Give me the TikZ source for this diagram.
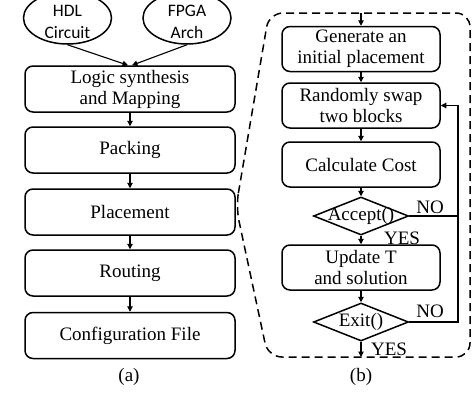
\documentclass[tikz,border=0pt]{standalone}
\usepackage{fontspec}
\setmainfont{Liberation Serif}
\newfontfamily\carl{Carlito}
\usetikzlibrary{shapes.geometric,arrows.meta}
\begin{document}
\begin{tikzpicture}[x=1pt,y=-1pt,
  txt/.style={font=\fontsize{19}{21}\selectfont,inner sep=0pt,align=center},
  box/.style={txt,draw,line width=1.5pt,rounded corners=8pt,minimum width=210pt,minimum height=46pt},
  rbox/.style={txt,draw,line width=1.5pt,rounded corners=8pt,minimum width=158pt,minimum height=45pt},
  ell/.style={draw,ellipse,line width=1.5pt,minimum width=88pt,minimum height=52pt,inner sep=0pt},
  etxt/.style={inner sep=0pt,align=center,font=\carl\fontsize{17.5}{22}\selectfont},
  dia/.style={draw,diamond,line width=1.5pt,minimum width=95pt,minimum height=38pt,inner sep=0pt},
  arr/.style={line width=1.1pt,-{Triangle[length=5.5pt,width=5.5pt]}},
  ln/.style={line width=1.1pt}
]
\useasboundingbox (0,0) rectangle (474,410);
% (a) flow
\node[ell] (hdl) at (67.5,18) {};
\node[etxt] (hdlt) at (67.5,22) {HDL\\Circuit};
\node[ell] (fpga) at (187,18) {};
\node[etxt] (fpgat) at (187,22) {FPGA\\Arch};
\node[box] (logic) at (130,89) {Logic synthesis\\and Mapping};
\node[box] (pack) at (130,150) {Packing};
\node[box] (place) at (130,212) {Placement};
\node[box] (rout) at (130,273) {Routing};
\node[box] (conf) at (130,335.5) {Configuration File};
\node[txt] (capa) at (129,377) {(a)};
\draw[arr] (hdl.south) -- ([xshift=-2pt]logic.north);
\draw[arr] (fpga.south) -- ([xshift=2pt]logic.north);
\draw[arr] (logic) -- (pack);
\draw[arr] (pack) -- (place);
\draw[arr] (place) -- (rout);
\draw[arr] (rout) -- (conf);
% (b) placement detail
\draw[dashed,line width=1.5pt,dash pattern=on 8pt off 5pt,rounded corners=14pt]
  (236,207) -- (269,13) -- (470,13) -- (470,357) -- (268,357) -- cycle;
\coordinate (topin) at (361,13);
\coordinate (botout) at (361,357);
\node[rbox] (gen) at (361,49) {Generate an\\initial placement};
\node[rbox] (swap) at (361,105.5) {Randomly swap\\two blocks};
\node[rbox] (cost) at (361,164.5) {Calculate Cost};
\node[dia] (acc) at (361,216) {};
\node[txt] (acct) at (361,216) {Accept()};
\node[rbox] (upd) at (361,267.5) {Update T\\and solution};
\node[dia] (exit) at (361,322) {};
\node[txt] (exitt) at (361,322) {Exit()};
\node[txt] (capb) at (361,377) {(b)};
\node[txt] (no1) at (430,207) {NO};
\node[txt] (yes1) at (402,238) {YES};
\node[txt] (no2) at (430,311) {NO};
\node[txt] (yes2) at (389,349) {YES};
\coordinate (rt) at (458,216);
\draw[arr] (topin) -- (gen.north);
\draw[arr] (gen) -- (swap);
\draw[arr] (swap) -- (cost);
\draw[arr] (cost.south) -- (acc.north);
\draw[arr] (acc.south) -- (upd.north);
\draw[arr] (upd.south) -- (exit.north);
\draw[arr] (exit.south) -- (botout);
\draw[arr] (acc.east) -- (rt) |- (swap.east);
\draw[ln] (exit.east) -| (rt);
\end{tikzpicture}
\end{document}
